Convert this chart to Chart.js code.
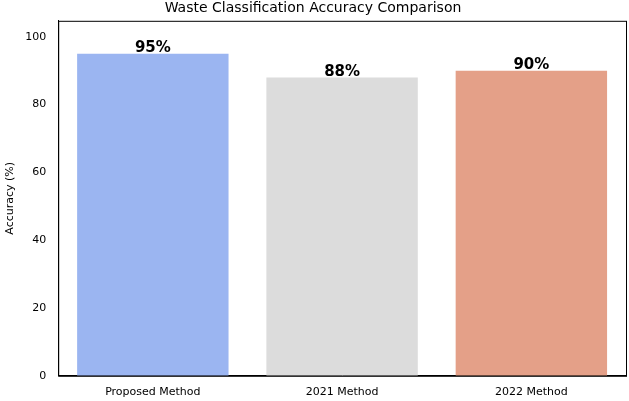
<!DOCTYPE html>
<html><head><script src="https://cdn.jsdelivr.net/npm/chart.js"></script>
<style>body{margin:0;background:#fff}#w{width:629px;height:401px}</style></head>
<body><div id="w"><canvas id="c"></canvas></div>
<script>
const categories=["Proposed Method","2021 Method","2022 Method"];
const accuracy=[95,88,90];
const barColors=["#9bb5f1","#dcdcdc","#e4a088"];
const yTicks=[0,20,40,60,80,100];
const F="DejaVu Sans";
const labelPlugin={id:"lbl",afterDatasetsDraw(ch){const ctx=ch.ctx;const m=ch.getDatasetMeta(0);ctx.save();ctx.font="bold 15px '"+F+"'";ctx.fillStyle="#000";ctx.textAlign="center";ctx.textBaseline="bottom";m.data.forEach((b,i)=>ctx.fillText(accuracy[i]+"%",b.x,b.y+2));ctx.restore();}};
const frame={id:"frame",afterDraw(ch){const a=ch.chartArea,ctx=ch.ctx;ctx.save();ctx.strokeStyle="#000";ctx.lineWidth=1;ctx.strokeRect(a.left+0.5,a.top+0.5,a.right-a.left,a.bottom-a.top);ctx.restore();}};
new Chart(document.getElementById("c"),{type:"bar",
data:{labels:categories,datasets:[{data:accuracy,backgroundColor:barColors,categoryPercentage:0.8,barPercentage:1}]},
options:{responsive:true,maintainAspectRatio:false,animation:false,
layout:{padding:{left:0,right:3,top:0,bottom:0}},
plugins:{legend:{display:false},tooltip:{enabled:false},
title:{display:true,text:"Waste Classification Accuracy Comparison",color:"#000",font:{family:F,size:14,weight:"normal"},padding:{top:0,bottom:4}}},
scales:{x:{grid:{display:false},border:{color:"#000"},ticks:{color:"#000",font:{family:F,size:11},padding:2}},
y:{min:0,max:104.7,afterBuildTicks(ax){ax.ticks=yTicks.map(v=>({value:v}));},grid:{display:false,drawTicks:true},border:{color:"#000"},
ticks:{color:"#000",font:{family:F,size:11},padding:4},
title:{display:true,text:"Accuracy (%)",color:"#000",font:{family:F,size:11},padding:{bottom:4}}}}},
plugins:[labelPlugin,frame]});
</script></body></html>
